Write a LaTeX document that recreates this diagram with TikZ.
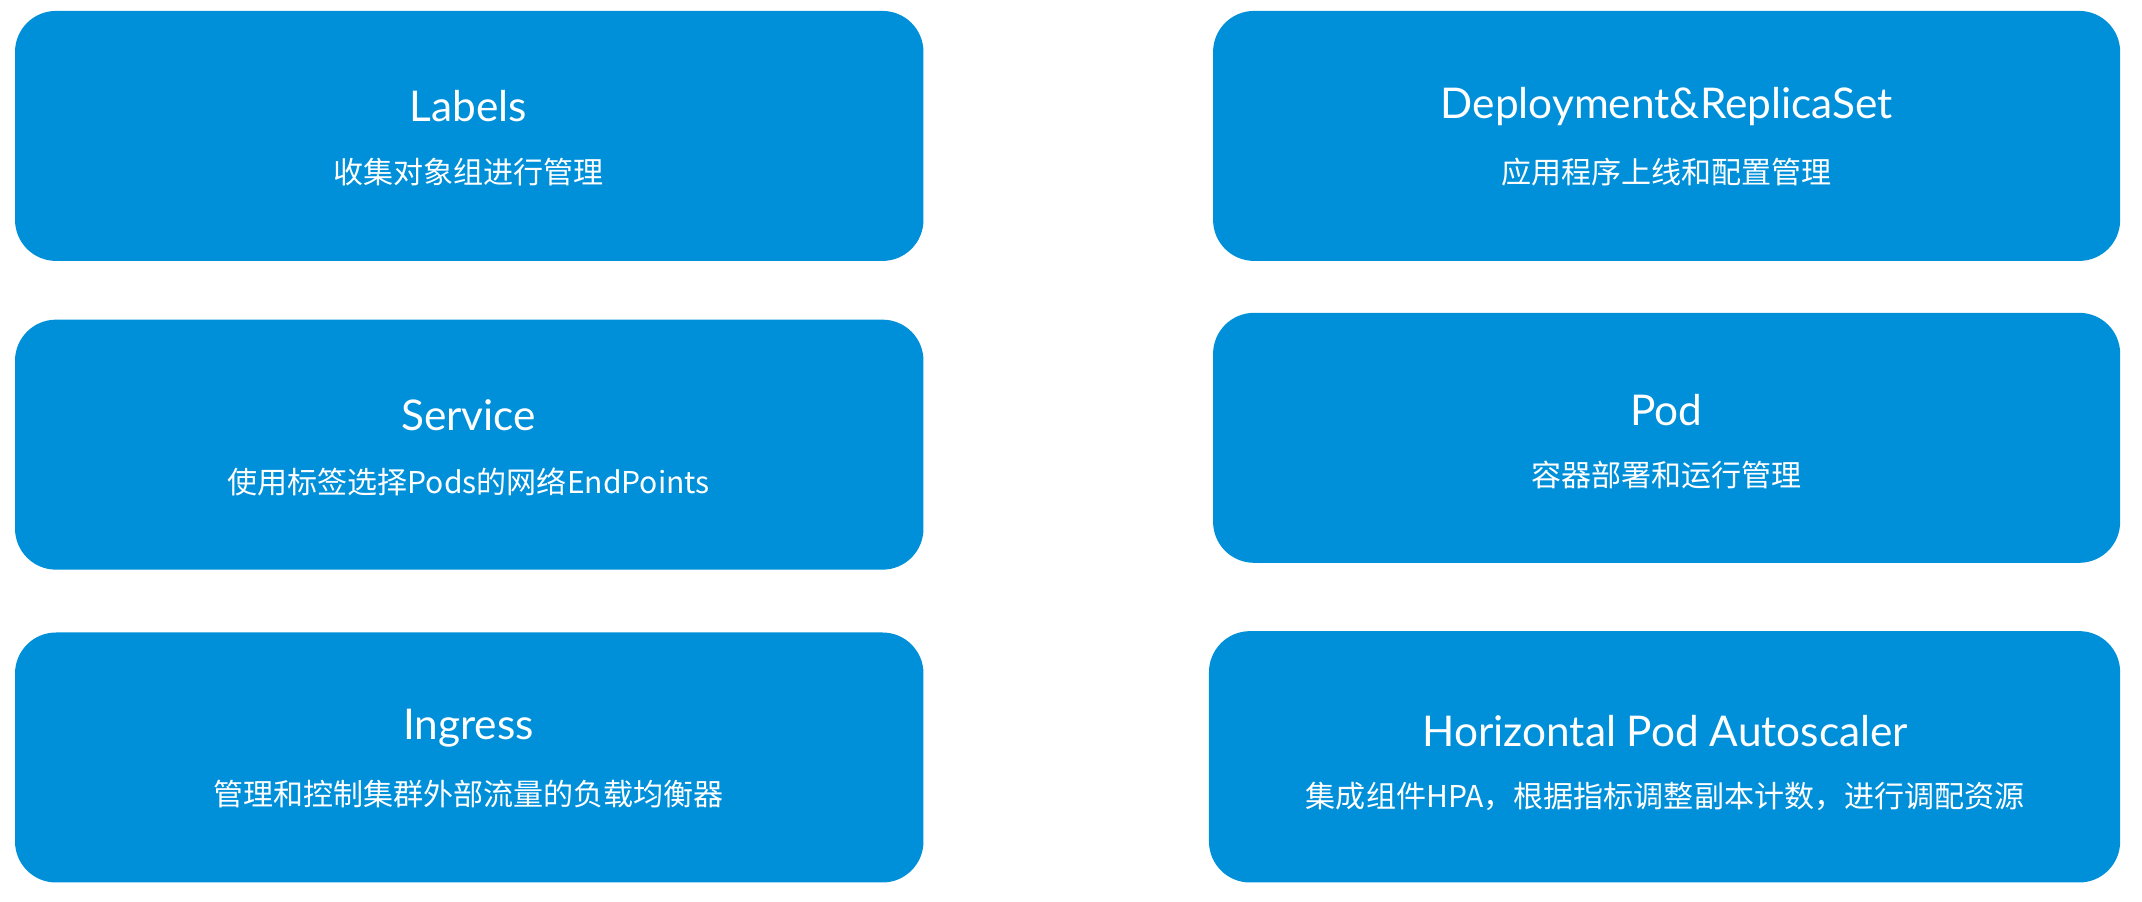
\documentclass[tikz,border=0pt]{standalone}
\usepackage{fontspec}
\setmainfont{Lato}
\newfontfamily\cjk{Noto Sans CJK SC}
\definecolor{boxblue}{HTML}{0090DA}
\begin{document}
\begin{tikzpicture}[x=1pt,y=-1pt,
  card/.style={fill=boxblue,rounded corners=30pt},
  ttl/.style={text=white,font=\fontsize{31}{36}\selectfont,anchor=center},
  sub/.style={text=white,font=\cjk\fontsize{22}{26}\selectfont,anchor=center}]
\useasboundingbox (0,0) rectangle (1568,660);
\fill[card] (11,8) rectangle (676,191);
\fill[card] (11,234) rectangle (676,417);
\fill[card] (11,463) rectangle (676,646);
\fill[card] (888,8) rectangle (1552,191);
\fill[card] (888,229) rectangle (1552,412);
\fill[card] (885,462) rectangle (1552,646);
\node[ttl] (t1) at (343,78) {Labels};
\node[sub] (s1) at (343,126) {收集对象组进行管理};
\node[ttl] (t2) at (343,304) {Service};
\node[sub] (s2) at (343,353) {使用标签选择Pods的网络EndPoints};
\node[ttl] (t3) at (343,533) {Ingress};
\node[sub] (s3) at (343,581) {管理和控制集群外部流量的负载均衡器};
\node[ttl] (t4) at (1220,78) {Deployment\&ReplicaSet};
\node[sub] (s4) at (1220,126) {应用程序上线和配置管理};
\node[ttl] (t5) at (1220,300) {Pod};
\node[sub] (s5) at (1220,348) {容器部署和运行管理};
\node[ttl] (t6) at (1219,535) {Horizontal Pod Autoscaler};
\node[sub] (s6) at (1219,583) {集成组件HPA，根据指标调整副本计数，进行调配资源};
\end{tikzpicture}
\end{document}
